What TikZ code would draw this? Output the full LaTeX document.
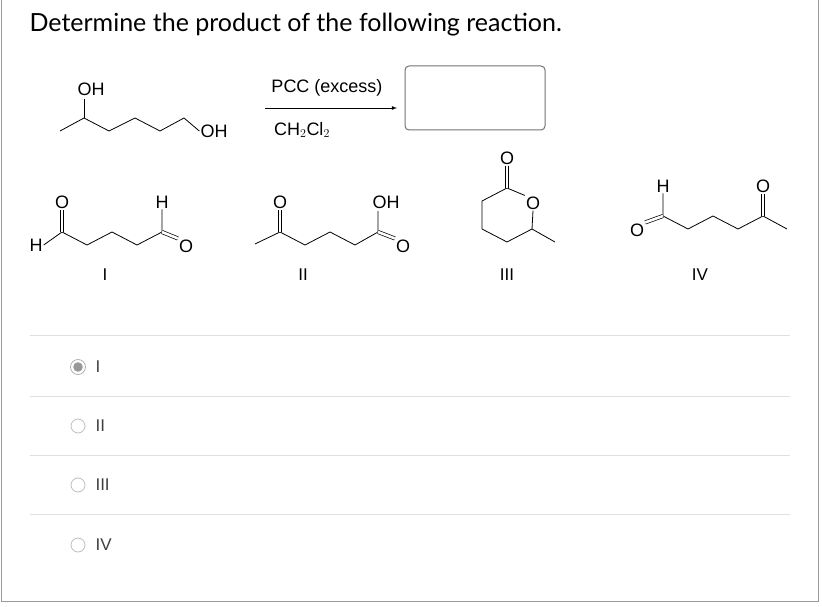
\documentclass[tikz,border=0pt]{standalone}
\usepackage{fontspec}
\setmainfont{Liberation Sans}
\newfontfamily\titlefont{Lato}
\begin{document}
\begin{tikzpicture}[x=1pt,y=-1pt,
  bd/.style={line width=0.8pt, line join=round},
  db/.style={double, double distance=2.6pt, line width=0.7pt},
  atm/.style={inner sep=1pt, font=\fontsize{18}{18}\selectfont},
  lab/.style={font=\fontsize{17}{17}\selectfont},
  sep/.style={draw=black!12, line width=0.8pt},
  radio/.style={circle, draw=black!25, line width=0.8pt, minimum size=14pt, inner sep=0pt},
  opt/.style={font=\fontsize{17}{17}\selectfont, text=black!75, anchor=west}]
\useasboundingbox (0,0) rectangle (822,607);
\fill[white] (0,0) rectangle (822,607);
\draw[black!40, line width=1pt] (1,-2) -- (1,601) -- (818,601) -- (818,-2);
\node[anchor=west, font=\titlefont\fontsize{25}{25}\selectfont] (title) at (26,25) {Determine the product of the following reaction.};
% starting material
\coordinate (s1) at (60,131); \coordinate (s2) at (84,118); \coordinate (s3) at (109,131);
\coordinate (s4) at (135,118); \coordinate (s5) at (160,131); \coordinate (s6) at (184,118);
\node[atm] (sOH1) at (91,89) {OH};
\node[atm] (sOH2) at (214,131) {OH};
\draw[bd] (s1)--(s2)--(s3)--(s4)--(s5)--(s6)--(sOH2.west);
\draw[bd] (s2)--(84,99);
% arrow
\coordinate (a1) at (265,108); \coordinate (a2) at (397,108);
\draw[line width=0.8pt, -latex] (a1)--(a2);
\node[atm] (pcc) at (327,88) {PCC (excess)};
\node[atm] (sol) at (302,130) {CH$_2$Cl$_2$};
\draw[black!55, line width=1pt, rounded corners=4pt] (405,66) rectangle (545,130);
% I
\node[atm] (IH1) at (36,245) {H};
\coordinate (i1) at (62,232); \coordinate (i2) at (87,245); \coordinate (i3) at (112,232);
\coordinate (i4) at (137,245); \coordinate (i5) at (162,232);
\node[atm] (IO1) at (62,202) {O};
\node[atm] (IH2) at (162,202) {H};
\node[atm] (IO2) at (186,246) {O};
\draw[bd] (IH1.east)--(i1)--(i2)--(i3)--(i4)--(i5)--(IH2.south);
\draw[db] (i1)--(IO1.south);
\draw[db] (i5)--(IO2.north west);
\node[lab] (LI) at (105,275) {I};
% II
\coordinate (j1) at (255,244); \coordinate (j2) at (280,232); \coordinate (j3) at (305,245);
\coordinate (j4) at (330,232); \coordinate (j5) at (355,245); \coordinate (j6) at (378,232);
\node[atm] (JO1) at (280,202) {O};
\node[atm] (JOH) at (386,202) {OH};
\node[atm] (JO2) at (403,246) {O};
\draw[bd] (j1)--(j2)--(j3)--(j4)--(j5)--(j6)--(378,211);
\draw[db] (j2)--(JO1.south);
\draw[db] (j6)--(JO2.north west);
\node[lab] (LII) at (303,275) {II};
% III
\coordinate (k1) at (507,188); \coordinate (k2) at (482,201); \coordinate (k3) at (482,229);
\coordinate (k4) at (507,242); \coordinate (k5) at (532,229); \coordinate (k6) at (555,242);
\node[atm] (KO1) at (507,158) {O};
\node[atm] (KO2) at (533,203) {O};
\draw[bd] (KO2.north west)--(k1)--(k2)--(k3)--(k4)--(k5)--(KO2.south);
\draw[bd] (k5)--(k6);
\draw[db] (k1)--(KO1.south);
\node[lab] (LIII) at (507,275) {III};
% IV
\node[atm] (LH) at (663,186) {H};
\node[atm] (LO1) at (637,230) {O};
\coordinate (l1) at (663,216); \coordinate (l2) at (688,229); \coordinate (l3) at (713,216);
\coordinate (l4) at (738,229); \coordinate (l5) at (763,216); \coordinate (l6) at (787,229);
\node[atm] (LO2) at (763,186) {O};
\draw[bd] (LH.south)--(l1)--(l2)--(l3)--(l4)--(l5)--(l6);
\draw[db] (l1)--(LO1.north east);
\draw[db] (l5)--(LO2.south);
\node[lab] (LIV) at (700,275) {IV};
% options
\draw[sep] (30,335)--(790,335);
\draw[sep] (30,396)--(790,396);
\draw[sep] (30,455)--(790,455);
\draw[sep] (30,514)--(790,514);
\node[radio, draw=black!30, fill=white, minimum size=15pt] (r1) at (78,367) {};
\fill[black!40] (r1.center) circle (4.8pt);
\node[radio] (r2) at (78,426) {};
\node[radio] (r3) at (78,485) {};
\node[radio] (r4) at (78,545) {};
\node[opt] (o1) at (92,367) {I};
\node[opt] (o2) at (92,426) {II};
\node[opt] (o3) at (92,485) {III};
\node[opt] (o4) at (92,545) {IV};
\end{tikzpicture}
\end{document}
